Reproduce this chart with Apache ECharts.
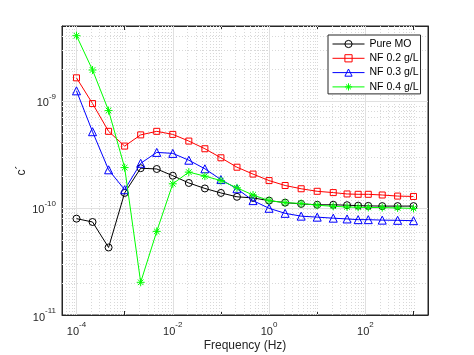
<!DOCTYPE html>
<html><head><meta charset="utf-8">
<script src="https://cdn.jsdelivr.net/npm/echarts@6/dist/echarts.min.js"></script>
<style>html,body{margin:0;padding:0;background:#fff}#c{width:474px;height:355px}</style>
</head><body><div id="c"></div>
<script>
// ---- data ----
const freq = [1e-4, 2.154e-4, 4.642e-4, 1e-3, 2.154e-3, 4.642e-3, 1e-2, 2.154e-2, 4.642e-2, 0.1, 0.2154, 0.4642, 1, 2.154, 4.642, 10, 21.54, 41.7, 70.8, 115, 224, 468, 1000];
const pureMO = [7.94e-11, 7.39e-11, 4.27e-11, 1.38e-10, 2.35e-10, 2.31e-10, 2.0e-10, 1.71e-10, 1.52e-10, 1.38e-10, 1.27e-10, 1.24e-10, 1.17e-10, 1.12e-10, 1.09e-10, 1.07e-10, 1.07e-10, 1.06e-10, 1.05e-10, 1.045e-10, 1.04e-10, 1.04e-10, 1.04e-10];
const nf02 = [1.64e-9, 9.43e-10, 5.19e-10, 3.78e-10, 4.81e-10, 5.19e-10, 4.86e-10, 4.21e-10, 3.57e-10, 2.94e-10, 2.40e-10, 2.07e-10, 1.80e-10, 1.62e-10, 1.51e-10, 1.43e-10, 1.39e-10, 1.35e-10, 1.34e-10, 1.34e-10, 1.32e-10, 1.29e-10, 1.28e-10];
const nf03 = [1.24e-9, 5.15e-10, 2.27e-10, 1.48e-10, 2.61e-10, 3.30e-10, 3.23e-10, 2.79e-10, 2.32e-10, 1.84e-10, 1.51e-10, 1.17e-10, 9.92e-11, 8.9e-11, 8.38e-11, 8.2e-11, 8.02e-11, 7.89e-11, 7.77e-11, 7.77e-11, 7.69e-11, 7.66e-11, 7.6e-11];
const nf04 = [4.06e-9, 1.94e-9, 8.11e-10, 2.38e-10, 2.02e-11, 6.04e-11, 1.68e-10, 2.16e-10, 1.98e-10, 1.80e-10, 1.54e-10, 1.32e-10, 1.17e-10, 1.12e-10, 1.10e-10, 1.06e-10, 1.035e-10, 1.02e-10, 1.014e-10, 1.01e-10, 1.007e-10, 1.0e-10, 9.9e-11];
const seriesNames = ['Pure MO', 'NF 0.2 g/L', 'NF 0.3 g/L', 'NF 0.4 g/L'];
const xTickExps = [-4, -2, 0, 2];          // labelled x ticks: 10^-4 ... 10^2
const yTickExps = [-11, -10, -9];          // labelled y ticks
const xDecades = [-5, -4, -3, -2, -1, 0, 1, 2, 3];
const yDecades = [-11, -10, -9];
const minorMult = [1, 2, 3, 4, 5, 6, 7, 8, 9];
const xRange = [5e-5, 2e3];
const yRange = [1e-11, 5e-9];

// ---- styles ----
const FONT = 'Liberation Sans, Arial, Helvetica, sans-serif';
const AX = '#262626';
const colors = ['#000000', '#ff0000', '#0000ff', '#00ff00'];
const symbols = ['circle', 'rect', 'triangle',
  'path://M5,0L5,10M0,5L10,5M1.5,1.5L8.5,8.5M8.5,1.5L1.5,8.5'];
const symSizes = [7, 6, 8, 8];
const values = [pureMO, nf02, nf03, nf04];

function isExp(v, list) {
  const l = Math.log10(v), e = Math.round(l);
  if (Math.abs(l - e) > 1e-6) return null;
  return list.indexOf(e) >= 0 ? e : null;
}
const rich = {
  b: { fontSize: 11, fontFamily: FONT, color: AX, padding: [5, 0, 0, 0] },
  s: { fontSize: 8, fontFamily: FONT, color: AX, verticalAlign: 'top' }
};
function fmtX(v) { const e = isExp(v, xTickExps); return e === null ? '' : '{b|10}{s|' + e + '}'; }
function fmtY(v) { const e = isExp(v, yTickExps); return e === null ? '' : '{b|10}{s|' + e + '}'; }

// grid line positions: [x, y, kind]  kind 0 = vertical minor, 1 = horizontal minor, 2 = vertical major, 3 = horizontal major
const gridItems = [];
xDecades.forEach(d => minorMult.forEach(m => {
  const v = m * Math.pow(10, d);
  if (v > xRange[0] * 1.0001 && v < xRange[1] * 0.9999) {
    const major = (m === 1 && xTickExps.indexOf(d) >= 0);
    gridItems.push([v, yRange[0], major ? 2 : 0]);
  }
}));
yDecades.forEach(d => minorMult.forEach(m => {
  const v = m * Math.pow(10, d);
  if (v > yRange[0] * 1.0001 && v < yRange[1] * 0.9999) {
    const major = (m === 1 && yTickExps.indexOf(d) >= 0);
    gridItems.push([xRange[0], v, major ? 3 : 1]);
  }
}));
gridItems.sort((a, b) => a[2] - b[2]);

const baseX = {
  type: 'log', logBase: 10, min: xRange[0], max: xRange[1],
  axisLine: { show: true, lineStyle: { color: AX, width: 1 } },
  axisTick: { show: true, inside: true, length: 4, lineStyle: { color: AX } },
  splitLine: { show: false }, minorTick: { show: false }
};
const baseY = {
  type: 'log', logBase: 10, min: yRange[0], max: yRange[1],
  axisLine: { show: true, lineStyle: { color: AX, width: 1 } },
  axisTick: { show: true, inside: true, length: 4, lineStyle: { color: AX } },
  splitLine: { show: false }, minorTick: { show: false }
};

const series = [{
  type: 'custom', name: '_grid', silent: true, z: 1, animation: false, clip: false,
  data: gridItems,
  renderItem: function (params, api) {
    const cs = params.coordSys;
    const kind = api.value(2);
    const p = api.coord([api.value(0), api.value(1)]);
    const minor = (kind === 0 || kind === 1);
    const style = minor
      ? { stroke: '#d8d8d8', lineWidth: 1, lineDash: [1, 2] }
      : { stroke: '#e0e0e0', lineWidth: 1 };
    let shape;
    if (kind === 0 || kind === 2) {
      const x = Math.round(p[0]) + 0.5;
      shape = { x1: x, y1: cs.y, x2: x, y2: cs.y + cs.height };
    } else {
      const y = Math.round(p[1]) + 0.5;
      shape = { x1: cs.x, y1: y, x2: cs.x + cs.width, y2: y };
    }
    return { type: 'line', shape: shape, style: style, silent: true };
  }
}];
seriesNames.forEach((n, i) => {
  series.push({
    type: 'line', name: n, z: 3 + i,
    data: freq.map((f, j) => [f, values[i][j]]),
    symbol: symbols[i], symbolSize: symSizes[i], showSymbol: true,
    itemStyle: { color: 'rgba(0,0,0,0)', borderColor: colors[i], borderWidth: 1 },
    lineStyle: { color: colors[i], width: 1 },
    emphasis: { disabled: true }, animation: false
  });
});

const chart = echarts.init(document.getElementById('c'), null, { renderer: 'canvas' });
chart.setOption({
  backgroundColor: '#ffffff',
  animation: false,
  grid: { left: 62, right: 46, top: 26, bottom: 40, containLabel: false, outerBoundsMode: 'none',
          show: true, borderColor: AX, borderWidth: 1, backgroundColor: '#ffffff' },
  legend: {
    data: seriesNames, orient: 'vertical', left: 328, top: 35,
    backgroundColor: '#ffffff', borderColor: AX, borderWidth: 1,
    padding: [3, 2, 1, 4], itemWidth: 32, itemHeight: 9, itemGap: 2.3,
    selectedMode: false,
    lineStyle: { width: 1 },
    itemStyle: { borderWidth: 1 },
    textStyle: { fontSize: 10.5, fontFamily: FONT, color: '#000', lineHeight: 12 }
  },
  xAxis: [
    Object.assign({}, baseX, {
      position: 'bottom',
      name: 'Frequency (Hz)', nameLocation: 'middle', nameGap: 25, nameMoveOverlap: false,
      nameTextStyle: { fontSize: 12, fontFamily: FONT, color: AX },
      axisLabel: { show: true, formatter: fmtX, rich: rich, margin: 6, showMinLabel: false, showMaxLabel: false }
    }),
    Object.assign({}, baseX, { position: 'top', axisLabel: { show: false } })
  ],
  yAxis: [
    Object.assign({}, baseY, {
      position: 'left',
      name: 'c\u00b4', nameLocation: 'middle', nameGap: 34, nameRotate: 90, nameMoveOverlap: false,
      nameTextStyle: { fontSize: 12, fontFamily: FONT, color: AX },
      axisLabel: { show: true, formatter: fmtY, rich: rich, margin: 6, showMinLabel: true, showMaxLabel: false }
    }),
    Object.assign({}, baseY, { position: 'right', axisLabel: { show: false } })
  ],
  series: series
});
</script>
</body></html>
